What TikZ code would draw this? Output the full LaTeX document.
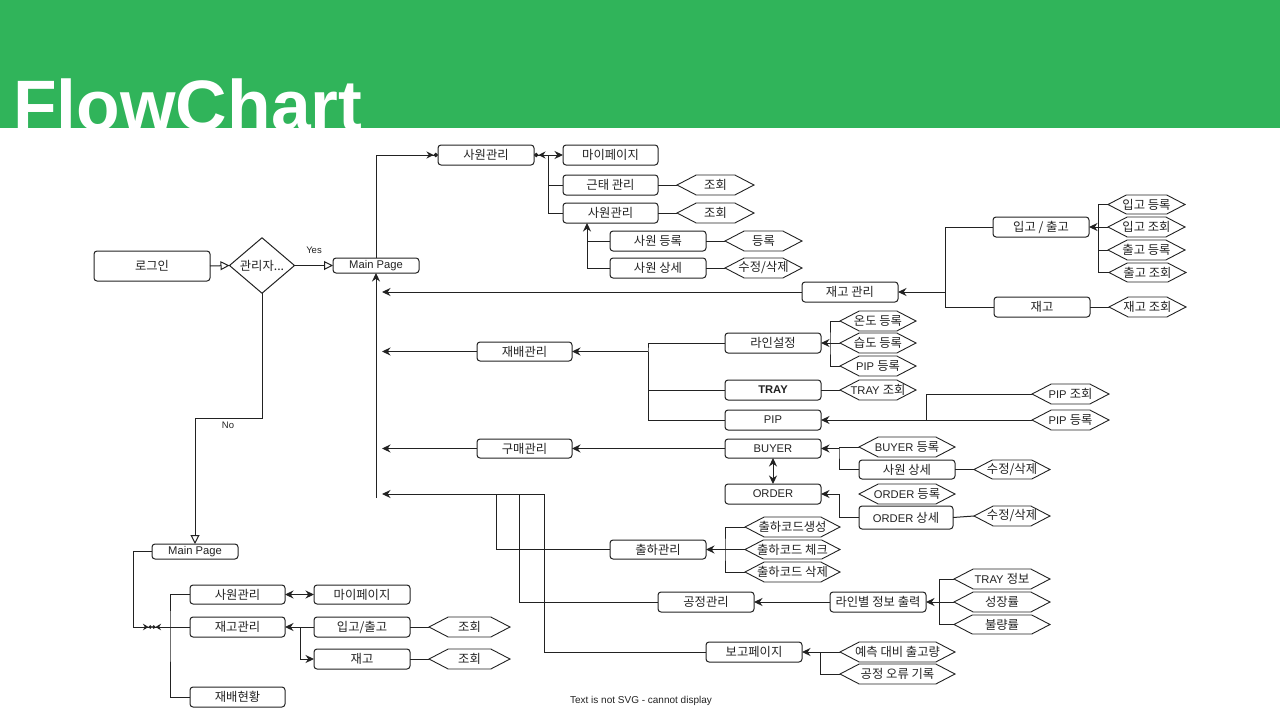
\documentclass[tikz,border=0pt]{standalone}
\usepackage{fontspec}
\setmainfont{Liberation Sans}
\newfontfamily\krfont[Scale=1.1]{Noto Sans CJK KR}
\newcommand{\kr}[1]{{\krfont #1}}
\usetikzlibrary{arrows.meta,shapes.geometric,shapes.symbols,calc}
\definecolor{bandgreen}{HTML}{30B45A}
\definecolor{inkc}{HTML}{222222}
\tikzset{
  lbl/.style={text=inkc,font=\fontsize{11.2}{13}\selectfont,inner sep=0pt,outer sep=0pt},
  boxn/.style={lbl,draw=inkc,line width=1pt,rounded corners=3pt},
  hexn/.style={lbl,draw=inkc,line width=0.9pt,signal,signal to=east and west,signal pointer angle=55},
  wire/.style={draw=inkc,line width=1pt},
  arr/.style={wire,-{Stealth[length=8.5pt,width=8pt]}},
  arrb/.style={wire,{Stealth[length=8.5pt,width=8pt]}-{Stealth[length=8.5pt,width=8pt]}},
  arrd/.style={wire,-{Stealth[length=7pt,width=7pt]Circle[length=4.5pt]}},
  arrs/.style={wire,-{Stealth[length=5.5pt,width=6.5pt]Circle[length=3.5pt]}},
  opena/.style={wire,-{Triangle[open,fill=white,length=9pt,width=9pt]}},
}
\newcommand{\bx}[6]{\node[boxn,minimum width={(#4-#2)*1pt},minimum height={(#5-#3)*1pt}] (#1) at ({(#2+#4)/2},{(#3+#5)/2}) {#6};}
\newcommand{\hx}[6]{\node[hexn,minimum width={(#4-#2)*1pt},minimum height={(#5-#3)*1pt}] (#1) at ({(#2+#4)/2},{(#3+#5)/2}) {\makebox[0pt]{#6}};}
\begin{document}
\begin{tikzpicture}[x=1pt,y=-1pt]
\useasboundingbox (0,0) rectangle (1280,720);
\fill[bandgreen] (0,0) rectangle (1280,128);
\node[anchor=base west,inner sep=0pt,text=white,font=\fontsize{71}{80}\selectfont\bfseries] (title) at (13,130) {\fontsize{71.4}{80}\selectfont FlowChart};

% top left
\bx{login}{94}{251}{210}{281}{\kr{로그인}}
\node[lbl,draw=inkc,line width=1pt,diamond,minimum width=65pt,minimum height=52pt] (admin) at (262,265.5) {\kr{관리자...}};
\bx{main}{333}{258}{419}{273}{Main Page}
\node[lbl] (yes) at (314,250) {\fontsize{9.5}{11}\selectfont Yes};
\node[lbl] (no) at (228,425) {\fontsize{9.5}{11}\selectfont No};

% employee
\bx{emp}{438}{145}{534}{165}{\kr{사원관리}}
\bx{my}{563}{145}{658}{165}{\kr{마이페이지}}
\bx{att}{563}{175}{658}{195}{\kr{근태 관리}}
\bx{emp2}{563}{203}{658}{223}{\kr{사원관리}}
\hx{q1}{677}{175}{754}{195}{\kr{조회}}
\hx{q2}{677}{203}{754}{223}{\kr{조회}}
\bx{reg}{610}{231}{706}{251}{\kr{사원 등록}}
\hx{regh}{725}{231}{802}{251}{\kr{등록}}
\bx{det}{610}{258}{706}{278}{\kr{사원 상세}}
\hx{deth}{725}{258}{802}{278}{\kr{수정/삭제}}

% stock
\bx{stock}{802}{282}{898}{302}{\kr{재고 관리}}
\bx{io}{993}{217}{1089}{237}{\kr{입고 / 출고}}
\bx{inv}{994}{297}{1090}{317}{\kr{재고}}
\hx{s1}{1108}{195}{1185}{214}{\kr{입고 등록}}
\hx{s2}{1108}{217}{1185}{237}{\kr{입고 조회}}
\hx{s3}{1108}{240}{1185}{260}{\kr{출고 등록}}
\hx{s4}{1109}{263}{1186}{282}{\kr{출고 조회}}
\hx{s5}{1109}{297}{1186}{317}{\kr{재고 조회}}

% cultivation
\bx{cul}{477}{342}{572}{361}{\kr{재배관리}}
\bx{line}{725}{333}{821}{353}{\kr{라인설정}}
\bx{tray}{725}{380}{821}{400}{\textbf{TRAY}}
\bx{pip}{725}{410}{821}{430}{PIP}
\hx{c1}{840}{311}{916}{331}{\kr{온도 등록}}
\hx{c2}{840}{333}{916}{353}{\kr{습도 등록}}
\hx{c3}{840}{356}{916}{376}{PIP \kr{등록}}
\hx{c4}{840}{380}{916}{400}{TRAY \kr{조회}}
\hx{p1}{1032}{384}{1109}{404}{PIP \kr{조회}}
\hx{p2}{1032}{410}{1109}{430}{PIP \kr{등록}}

% purchase
\bx{buy}{477}{439}{572}{458}{\kr{구매관리}}
\bx{buyer}{725}{439}{821}{458}{BUYER}
\bx{order}{725}{484}{821}{504}{ORDER}
\hx{b1}{859}{437}{955}{457}{BUYER \kr{등록}}
\bx{b2}{859}{460}{955}{479}{\kr{사원 상세}}
\hx{b3}{974}{460}{1050}{479}{\kr{수정/삭제}}
\hx{o1}{859}{484}{955}{504}{ORDER \kr{등록}}
\bx{o2}{859}{506}{953}{529}{ORDER \kr{상세}}
\hx{o3}{974}{506}{1050}{526}{\kr{수정/삭제}}

% shipping
\bx{ship}{610}{540}{706}{559}{\kr{출하관리}}
\hx{sh1}{745}{517}{840}{537}{\kr{출하코드생성}}
\hx{sh2}{745}{540}{840}{559}{\kr{출하코드 체크}}
\hx{sh3}{745}{562}{840}{582}{\kr{출하코드 삭제}}
\bx{proc}{658}{592}{754}{612}{\kr{공정관리}}
\bx{lineinfo}{830}{592}{926}{612}{\kr{라인별 정보 출력}}
\hx{i1}{954}{569}{1050}{589}{TRAY \kr{정보}}
\hx{i2}{954}{592}{1050}{612}{\kr{성장률}}
\hx{i3}{954}{615}{1050}{634}{\kr{불량률}}
\bx{rep}{706}{642}{802}{662}{\kr{보고페이지}}
\hx{r1}{840}{642}{955}{662}{\kr{예측 대비 출고량}}
\hx{r2}{840}{664}{955}{684}{\kr{공정 오류 기록}}

% lower left
\bx{main2}{152}{544}{238}{559}{Main Page}
\bx{le}{190}{585}{285}{604}{\kr{사원관리}}
\bx{lm}{314}{585}{410}{604}{\kr{마이페이지}}
\bx{ls}{190}{617}{285}{637}{\kr{재고관리}}
\bx{lio}{314}{617}{410}{637}{\kr{입고/출고}}
\bx{linv}{314}{649}{410}{669}{\kr{재고}}
\bx{lc}{190}{687}{285}{707}{\kr{재배현황}}
\hx{lq1}{429}{617}{510}{637}{\kr{조회}}
\hx{lq2}{429}{649}{510}{669}{\kr{조회}}
\node[lbl] (svg) at (641,701) {\fontsize{10}{12}\selectfont Text is not SVG - cannot display};

% free-end coordinates
\coordinate (trunkend) at (376,498);
\coordinate (hub1) at (548,155);
\coordinate (hub2) at (587,241);
\coordinate (tstock) at (382,292);
\coordinate (tcul) at (382,351.5);
\coordinate (tbuy) at (382,448.5);
\coordinate (tship) at (382,494);
\coordinate (jst) at (945,292);
\coordinate (jio) at (1098,227);
\coordinate (jcul) at (648,351.5);
\coordinate (jline) at (830,343);
\coordinate (jpip) at (926,420);
\coordinate (jb) at (839,448.5);
\coordinate (jo) at (839,494);
\coordinate (x1) at (496,494);
\coordinate (x2) at (519,494);
\coordinate (x3) at (544,494);
\coordinate (jsh) at (725,549.5);
\coordinate (jin) at (939,602);
\coordinate (jr) at (820,652);
\coordinate (hubl) at (152,627);
\coordinate (lv) at (170,627);
\coordinate (bend1) at (262,418);
\coordinate (bend2) at (195,418);
\coordinate (lj) at (133,627);
\coordinate (ljr) at (300,627);

% login & main
\draw[opena] (login.east) -- (admin.west);
\draw[opena] (admin.east) -- (main.west);
\draw[opena] (admin.south) -- (bend1) -- (bend2) -- (main2.north);
\draw[arrd] (main.north) |- (emp.west);
\draw[arr] (trunkend) -- (main.south);

% employee
\draw[arrd] (hub1) -- (emp.east);
\draw[arr] (hub1) -- (my.west);
\draw[wire] (hub1) |- (emp2.west);
\draw[wire] (hub1) |- (att.west);
\draw[wire] (att.east) -- (q1.west);
\draw[wire] (emp2.east) -- (q2.west);
\draw[wire] (reg.east) -- (regh.west);
\draw[wire] (det.east) -- (deth.west);
\draw[wire] (reg.west) -| (hub2);
\draw[arr] (det.west) -| (emp2.south -| hub2);

% stock
\draw[arr] (stock.west) -- (tstock);
\draw[arr] (jst) -- (stock.east);
\draw[wire] (io.west) -| (jst) |- (inv.west);
\draw[wire] (inv.east) -- (s5.west);
\draw[arr] (s2.west) -- (io.east);
\draw[wire] (s1.west) -| (jio) |- (s4.west);
\draw[wire] (s3.west) -| (jio);

% cultivation
\draw[arr] (cul.west) -- (tcul);
\draw[arr] (jcul) -- (cul.east);
\draw[wire] (line.west) -| (jcul) |- (pip.west);
\draw[wire] (tray.west) -| (jcul);
\draw[arr] (c2.west) -- (line.east);
\draw[wire] (c1.west) -| (jline) |- (c3.west);
\draw[wire] (tray.east) -- (c4.west);
\draw[arr] (p2.west) -- (pip.east);
\draw[wire] (p1.west) -| (jpip);

% purchase
\draw[arr] (buy.west) -- (tbuy);
\draw[arr] (buyer.west) -- (buy.east);
\draw[arrb] (buyer.south) -- (order.north);
\draw[arr] (jb) -- (buyer.east);
\draw[wire] (b1.west) -| (jb) |- (b2.west);
\draw[wire] (b2.east) -- (b3.west);
\draw[arr] (jo) -- (order.east);
\draw[wire] (jo) |- (o2.west);
\draw[wire] (o2.east) -- (o3.west);

% shipping trunk
\draw[arr] (x3) -- (tship);
\draw[wire] (x1) |- (ship.west);
\draw[wire] (x2) |- (proc.west);
\draw[wire] (x3) |- (rep.west);
\draw[arr] (sh2.west) -- (ship.east);
\draw[wire] (sh1.west) -| (jsh) |- (sh3.west);
\draw[arr] (lineinfo.west) -- (proc.east);
\draw[arr] (i2.west) -- (lineinfo.east);
\draw[wire] (i1.west) -| (jin) |- (i3.west);
\draw[arr] (r1.west) -- (rep.east);
\draw[wire] (jr) |- (r2.west);

% lower left
\draw[arrs] (main2.west) -| (lj) -- (hubl);
\draw[arrs] (ls.west) -- (hubl);
\draw[wire] (le.west) -| (lv) |- (lc.west);
\draw[arrb] (le.east) -- (lm.west);
\draw[arr] (lio.west) -- (ls.east);
\draw[arr] (ljr) |- (linv.west);
\draw[wire] (lio.east) -- (lq1.west);
\draw[wire] (linv.east) -- (lq2.west);
\end{tikzpicture}
\end{document}
